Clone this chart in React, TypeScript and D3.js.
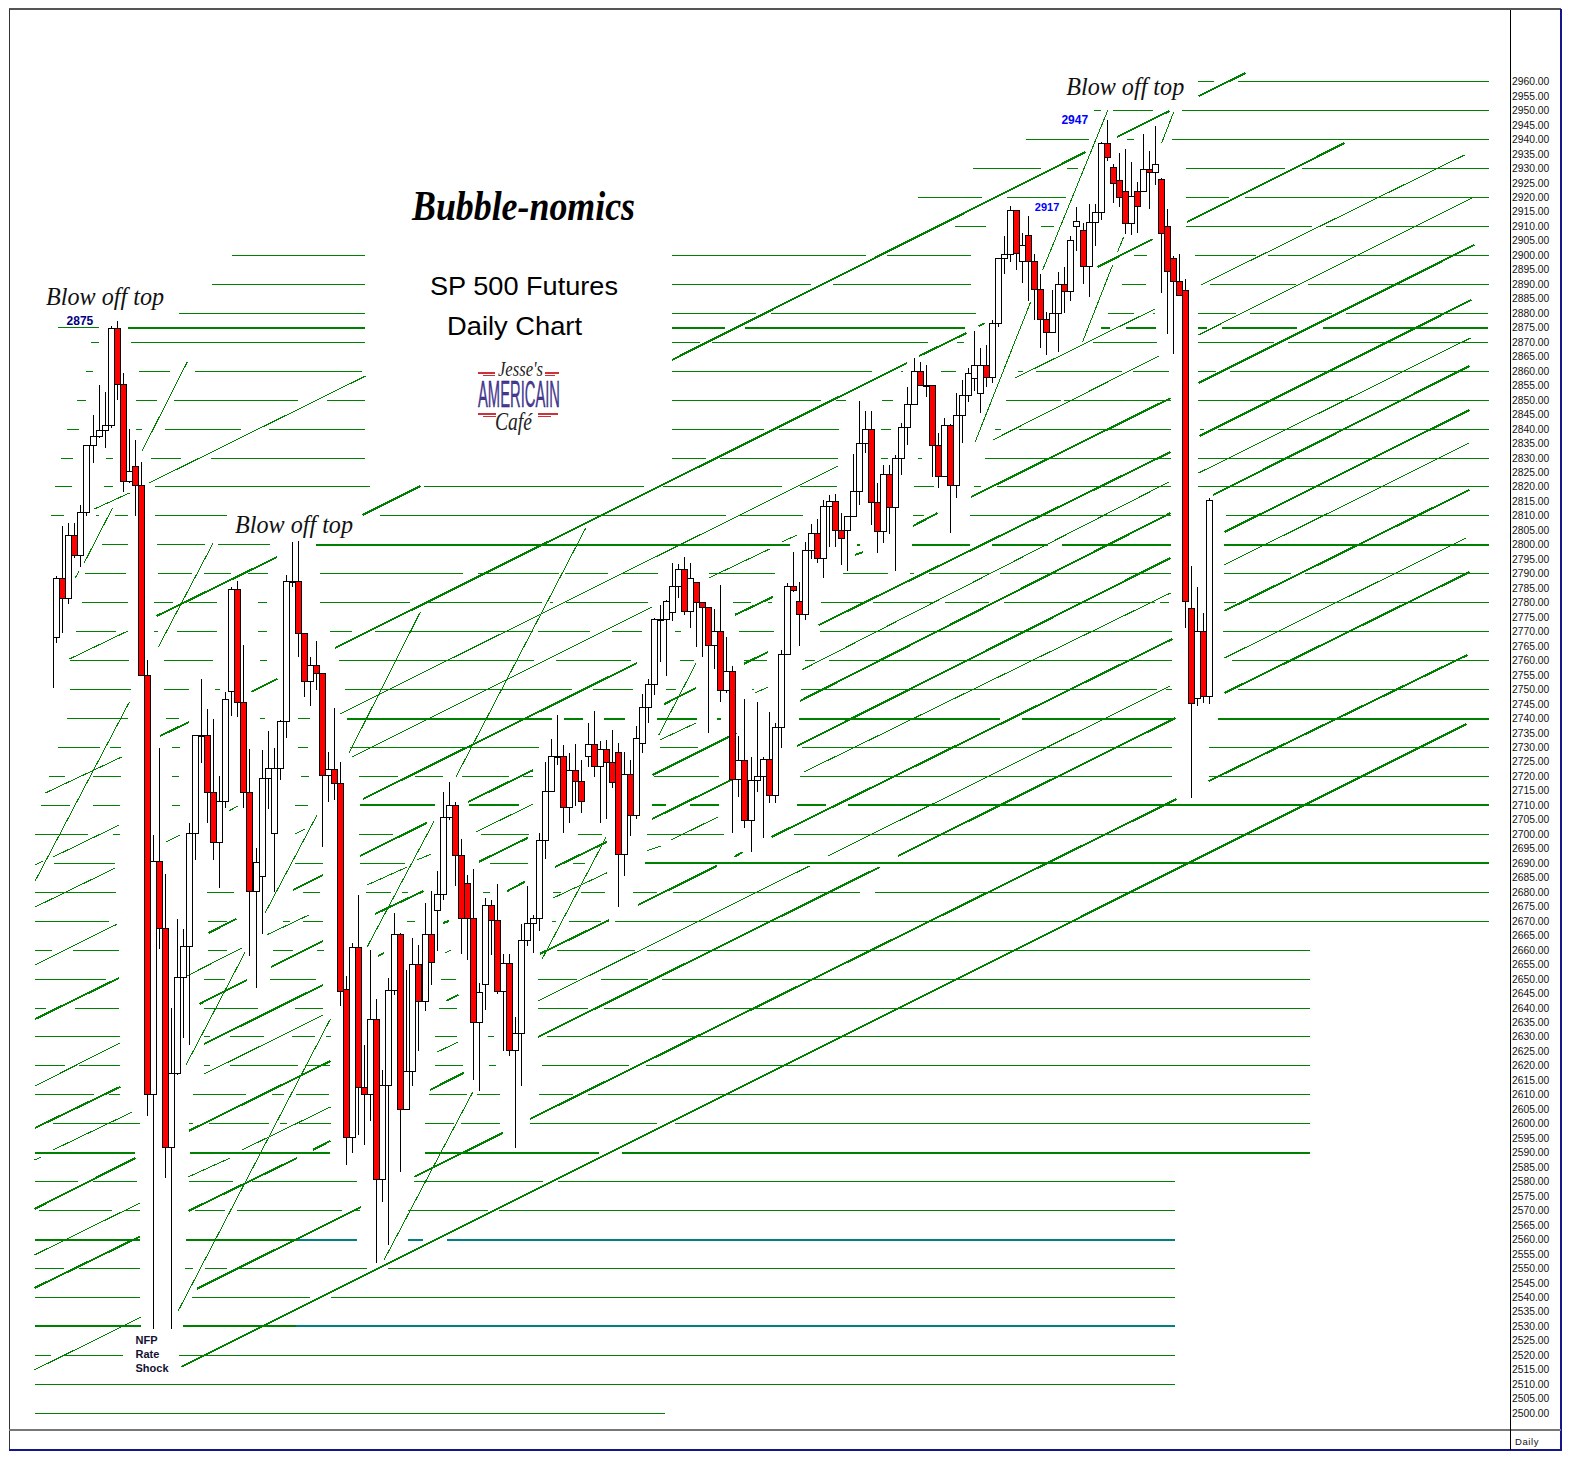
import React from "react";
import * as d3 from "d3";

// ---- Daily candles ----
const opens = [2768,2788.5,2781.5,2803.3,2796.4,2811.3,2834.4,2837.5,2839.6,2841.3,
2874.8,2855.5,2822,2827,2820.6,2755,2610,2690.6,2667.4,2591.7,
2617.3,2650.4,2661.4,2700.3,2734.3,2734.3,2714.5,2697.3,2711.3,2749.3,
2784.7,2745.6,2714.5,2680.1,2685.3,2719.4,2700.3,2722.8,2739,2787.3,
2787.3,2769.5,2752.8,2758.3,2755.6,2720.3,2722.3,2717.6,2646.3,2595.4,
2661,2612.6,2610,2636.1,2580.6,2613.1,2645.9,2665.3,2604.8,2618,
2655.1,2642.3,2665.3,2673.8,2679.3,2705.9,2710,2692.8,2683.1,2671,
2635.1,2648.2,2675.3,2670.3,2645.8,2655.5,2625.4,2631.3,2663.4,2669.3,
2671,2697.9,2714.8,2726.8,2726.8,2709.3,2722.1,2718.3,2726.8,2731.1,
2723.5,2729.3,2724.8,2728.3,2693.1,2720.7,2706.5,2731.4,2743.8,2751.8,
2774.2,2774.2,2776.7,2785.6,2791.5,2777,2787,2780.1,2778.4,2765.1,
2770.1,2749.7,2756.3,2719,2725.5,2704.8,2718.6,2720,2725.9,2713.4,
2736.9,2762.2,2785.6,2780.5,2776,2798,2804,2795.4,2813.3,2815.1,
2805,2805,2809.9,2818.5,2835.1,2839.9,2814.7,2804.7,2824.4,2813,
2829.9,2840.6,2848.6,2860,2855.1,2855.1,2834.4,2823.7,2841.3,2820.6,
2844.8,2851.7,2857.5,2852.4,2862,2857.9,2876.5,2898.9,2900.4,2915.5,
2897.8,2906.9,2897.8,2888.2,2877.9,2873.4,2879.9,2890,2887.5,2910,
2908.6,2896.2,2911.4,2914.8,2938.7,2930.4,2925.9,2922.1,2911,2922.1,
2922.1,2929.7,2928.7,2926.2,2910,2899,2891,2887.8,2778,2746.8,
2770.1,2747.5];
const highs = [2789.3,2806.5,2807.5,2807.5,2813.8,2834.4,2844.9,2855.2,2852.7,2875.6,
2877.3,2859.3,2839.9,2836.2,2828.5,2760.2,2699.7,2729.7,2686.4,2640,
2670.6,2667.4,2703.9,2734.3,2753.7,2743.2,2740,2720,2749.3,2785.6,
2787.5,2765.4,2729.5,2695.3,2729.2,2735.7,2729.7,2739.5,2789.6,2801.1,
2801.4,2769.5,2761.4,2766.8,2755.6,2728.4,2743.6,2725.1,2651.1,2662.6,
2679,2627.3,2660,2643.1,2618.6,2650.3,2672.7,2666,2653.2,2664.1,
2661.8,2676.2,2680.4,2687.4,2714.5,2718.2,2711.3,2698.3,2686,2687.9,
2648.6,2677.9,2677.3,2682.9,2658.7,2658.7,2636.8,2669,2682.2,2672.2,
2700.4,2725,2732.8,2741.2,2730.8,2728,2731.1,2725.6,2738.3,2742.6,
2732.2,2732.6,2736.2,2731.4,2728.3,2725.6,2737.4,2748.5,2753.6,2774.6,
2779.2,2780.9,2793.7,2793.4,2795.7,2793.9,2787,2780.1,2778.4,2777.7,
2786.1,2768,2758.1,2733.9,2746.7,2726.8,2745.6,2726.6,2742.1,2738.3,
2763.6,2786.7,2797.4,2787,2800.9,2807.2,2809,2815.5,2817.3,2817.6,
2810.9,2809.9,2831.4,2849.7,2846.4,2846.4,2821.3,2827.6,2827.6,2831.1,
2842,2854.7,2864.5,2863,2862.2,2855.1,2838.6,2843.7,2841.8,2852.4,
2857,2861,2873.9,2867.9,2869,2877.6,2898.9,2906.7,2917,2915.5,
2907.6,2913.6,2900.4,2893.4,2880.5,2888,2894.3,2896.1,2906.7,2916.8,
2911.3,2917.6,2917.6,2939.3,2946.7,2931.5,2935.2,2936.6,2932.3,2925.4,
2942.1,2936,2944.7,2926.9,2915.9,2899.8,2900.4,2891.7,2792.7,2785.3,
2776.4,2816.3];
const lows = [2766.2,2769.7,2779.5,2795.4,2792.3,2810,2828.4,2836.8,2833.6,2840.5,
2850,2818.4,2821.3,2810,2755,2602.7,2529,2660.3,2581.2,2529,
2617,2629.5,2627.3,2691.3,2724.8,2703.9,2691.3,2681.3,2709,2741,
2740.7,2709,2658.1,2647,2665.7,2708.6,2680,2718.8,2733.2,2785.6,
2761.4,2747.6,2744.5,2749.9,2695.7,2711.3,2711.9,2640.8,2585.9,2590,
2596.2,2592.7,2601.1,2551.8,2573.1,2558.2,2644.5,2583.5,2604.8,2612.9,
2625.3,2639.1,2648,2659.8,2677.3,2705,2682,2658.7,2656.6,2615.2,
2611.5,2639.3,2658.3,2644.9,2625,2623.6,2591.6,2612.9,2661.4,2659.1,
2666.7,2691.6,2714.8,2723.9,2700.3,2703.8,2709.8,2707.5,2723.1,2719.9,
2704,2705.4,2715.9,2674.8,2685.7,2699.5,2705.2,2728,2738.5,2748.1,
2759.6,2754.8,2773.8,2781.5,2775.7,2771.4,2764.8,2761.3,2735.1,2757.1,
2745.8,2748.7,2700.3,2713,2702.3,2694,2714.7,2698.6,2711,2711,
2729.7,2762.2,2783.8,2765.1,2774.2,2795,2793.9,2788.4,2799.4,2799.4,
2793.1,2791.1,2809.9,2813.6,2831.9,2806.7,2797.3,2800.6,2803.6,2790.8,
2824,2834.5,2848.6,2855.1,2851.2,2823.6,2819.6,2823.7,2804,2816.3,
2835.3,2849.5,2853,2845.7,2854.7,2855.8,2875.4,2893.4,2897.8,2894.9,
2890.5,2884.3,2877.6,2868.1,2865.6,2873.4,2866.7,2880.2,2884.3,2901.6,
2890.1,2885.7,2903.3,2912.2,2932.7,2918.2,2916.8,2907.4,2907.1,2907.6,
2922.1,2916.1,2924.3,2886.9,2872.7,2866.1,2886.2,2771.4,2712.6,2744.2,
2745.4,2745];
const closes = [2788.5,2781.5,2803.3,2796.4,2811.3,2834.4,2837.5,2839.6,2841.3,2874.8,
2855.5,2822,2825.4,2820.6,2755,2610,2690.6,2667.4,2591.7,2617.3,
2650.4,2661.4,2700.3,2734.3,2734.3,2714.5,2697.3,2711.3,2746.7,2784.7,
2745.6,2714.5,2680.1,2690.2,2719.4,2722.8,2722.8,2739,2787.3,2787.3,
2769.5,2752.8,2758.3,2755.6,2720.3,2722.3,2717.6,2645.7,2595.4,2661,
2612.6,2610,2636.1,2580.6,2613.1,2645.9,2665.3,2604.8,2618,2655.1,
2642.3,2665.3,2655.8,2679.3,2705.9,2710,2692.8,2671,2671,2635.1,
2645.4,2675.3,2670.3,2645.8,2655.5,2625.4,2631.3,2663.4,2669.3,2671,
2697.9,2714.8,2726.8,2726.8,2709.3,2722.1,2718.3,2711.3,2731.1,2723.5,
2729.3,2724.8,2717.9,2693.1,2720.7,2706.5,2733.1,2743.8,2751.8,2774.2,
2774.2,2780.5,2785.6,2791.5,2777,2788.4,2780.1,2778.4,2765.1,2770.1,
2749.7,2756.3,2719,2725.5,2704.8,2718.6,2720,2725.9,2713.4,2736.9,
2762.2,2785.6,2784.3,2776,2798,2804,2795.4,2813.3,2815.1,2805,
2802.3,2809.9,2818.5,2835.1,2839.9,2814.7,2804.7,2824.4,2813,2829.9,
2840.6,2848.6,2860,2855.1,2855.1,2834.4,2823.7,2841.3,2820.6,2844.8,
2851.7,2859.3,2862,2862,2857.9,2876.5,2898.9,2900.4,2915.5,2900.6,
2903.4,2897.8,2888.2,2877.9,2873.4,2879.9,2890,2887.5,2905.2,2911.7,
2896.2,2911.4,2914.8,2938.7,2933.8,2924.9,2920,2911,2920.4,2916.9,
2929.7,2928.8,2931.4,2907.6,2894.5,2891,2886.2,2780.3,2745.1,2770.1,
2747.5,2815.4];
const firstWick = [2768, 2750.5];

const priceTicks = d3.range(2500, 2965, 5);

// ---- Support / resistance levels: [price, [[fromBar, toBar], ...]] ----
const thinLevels: [number, number[][]][] = [
[2960,[[189.2,191.7],[195.7,237.3]]],
[2950,[[171.9,173],[175,181.6],[186.4,237.3]]],
[2940,[[160.6,171],[177.3,178.5],[184.9,237.3]]],
[2930,[[151.8,163.1],[167.4,169.2],[187.1,203.5],[206.3,237.3]]],
[2920,[[142.7,153.3],[157.5,167.2],[187.1,194.2],[196.9,237.3]]],
[2910,[[148.8,154],[163.2,165.2],[187.2,208],[210.4,237.3]]],
[2900,[[29.1,51.2],[102,134.1],[137.6,151.5],[178.6,180.6],[188.6,198.7],[200.7,237.3]]],
[2890,[[25.8,51.2],[102,125],[128.6,151.5],[176.5,180.5],[191.1,205.3],[207.3,237.3]]],
[2880,[[20.4,51.2],[102,115.9],[118.4,152.3],[174.2,178.6],[181.6,182],[189.1,195.5],[197.7,211.3],[213.6,237.1]]],
[2875,[[0.2,7]]],
[2870,[[5.8,7.1],[12.3,51.2],[102,106.6],[108.6,144.4],[149.2,150.3],[171.7,182.3],[189.2,201.7],[204,237.1]]],
[2860,[[5,6.1],[13.7,18.9],[23,50.7],[102,135.1],[139.9,140.2],[146.5,149],[159.3,160.1],[162.3,176.5],[178.3,184.3],[189.2,192.1],[194.4,237.3]]],
[2850,[[3.5,5],[13.2,16.7],[19.5,40.1],[44.9,51.2],[102,126.7],[129.1,130.8],[136.8,138.6],[157.3,166.4],[167,184.6],[189.2,237.3]]],
[2840,[[1.7,3.8],[13.2,14.2],[18,30.6],[35.3,51.2],[102,117.2],[119.7,129.6],[136.6,138.2],[155.5,156.5],[159.4,184.6],[189.4,190.2],[192.5,237.3]]],
[2830,[[0.7,2.8],[8.3,9.4],[15.7,20.7],[25.7,51.2],[102,107.6],[109.9,129.5],[136.6,137.7],[142.7,143.4],[153.8,184.6],[189.2,237.3]]],
[2820,[[-0.2,2.6],[7.9,9.4],[16.4,52],[60.9,97.4],[100.5,120.2],[123.2,129.3],[142.1,145.4],[152,153.1],[155.8,184.6],[189.2,237.3]]],
[2810,[[-0.8,1.2],[6.6,7.1],[9.8,11.8],[16.4,28.3],[53.6,110.9],[113.1,123.7],[141.9,143.7],[151.3,184.6],[193.7,237.3]]],
[2800,[[7.5,11.8],[16.6,24.7],[26.8,35.4]]],
[2790,[[4.8,11.6],[16.9,22.4],[24.5,29],[31.8,35.1],[43.7,67.4],[69.9,83.3],[84.3,91.4],[93.9,99.7],[108.1,119],[130.3,137.7],[141.4,142.1],[144.5,154.5],[156.3,184.6],[193.5,204.5],[206.8,237.3]]],
[2780,[[4.3,11.8],[16.2,19.4],[21.9,26.7],[33.4,34.9],[43.7,58.6],[61.1,80.5],[81.8,82.3],[84.4,98],[112.1,115.1],[117.9,118.5],[126.7,134.3],[135.3,145.2],[147.2,154.5],[157,182],[182.8,184.4],[193.5,195.4],[197.5,237.3]]],
[2770,[[3.3,9.9],[16.2,16.9],[20,26.7],[33.4,34.9],[45.4,49],[52.8,79],[79.8,88.4],[92.1,97],[102.5,103.5],[113.1,118.9],[126.5,184.9],[193.2,237.3]]],
[2760,[[2.3,12.1],[17.9,26],[33.8,34.9],[46.9,79.1],[82.8,95.2],[103.3,105.6],[113.9,117.7],[124,125.7],[128,184.9],[194.7,237.3]]],
[2750,[[2.3,12.3],[17.9,21.9],[26.3,27.2],[47.9,85.4],[88.9,95.5],[101,102.6],[115.2,115.6],[123.3,182.3],[183.9,184.9],[195.7,237.3]]],
[2740,[[1.7,11.8],[18.2,20.4],[33.8,34.6],[40.1,42.1]]],
[2730,[[0.2,7.3],[8.9,10.8],[19.2,20.5],[40.1,41.7],[48.7,80],[100,106.3],[123.5,184.9],[190.9,237.3]]],
[2720,[[-1.2,1.5],[6.1,10.8],[19.2,20.4],[40.6,41.9],[50.2,56.6],[59.4,64.1],[67.2,75],[77.3,79],[99,109.8],[123.2,184.9],[190.9,237.3]]],
[2710,[[-2.5,2.3],[6.1,10.6],[19.2,20.5],[39.6,41.7]]],
[2700,[[-3.5,5.3],[9.4,10.6],[50.2,55.8],[70.4,78.3],[86.4,90.4],[97.8,110.6],[122.2,237.3]]],
[2690,[[-0.3,9.8],[39.6,44.2],[50.3,57.8],[71.9,78.1],[85.6,87.6]]],
[2680,[[-3.5,9.9],[25,29.5],[40.9,43.7],[51.3,55.5],[57.3,58.3],[70.7,71.9],[82.3,83.6],[86.9,90.9],[95.5,99.5],[102.2,133.1],[135.6,237.3]]],
[2670,[[-3.5,8.8],[25.2,28.3],[37.6,38.7],[40.9,44.2],[58.1,59.4],[82.1,82.8],[84.9,90.2],[92.5,237.3]]],
[2660,[[-3.5,-0.7],[2.8,10.4],[25.2,28.3],[35.9,39.2],[43.2,44.4],[83,95.9],[97.8,207.6]]],
[2650,[[-3.5,8.3],[24.5,28],[35.4,43],[63.7,66.2],[79.8,86.3],[90.2,98],[100.3,207.6]]],
[2640,[[-3.5,-1.7],[3.1,10.4],[24.5,33.4],[39.6,44.2],[63.4,66.4],[79.8,88.1],[90.7,207.6]]],
[2630,[[-3.5,10.6],[24.5,25.5],[28.8,34.4],[39.1,42.9],[44.7,45.5],[62.7,66.4],[71.5,72.5],[81.3,207.6]]],
[2620,[[-3.5,1.5],[3.8,10.6],[24.5,25.5],[28.8,40.1],[41.2,45.4],[62.7,67.4],[71.7,72.8],[80.5,94.9],[97.7,207.6]]],
[2610,[[-3.5,6.3],[8.8,10.6],[22.7,31.5],[35.8,37.7],[39.7,45.2],[61.8,68],[69.7,73.5],[80,85.6],[88.1,207.6]]],
[2600,[[-0.5,13.9],[21.9,22.7],[25.3,35.3],[37.1,38.2],[40.2,45.5],[61.1,65.9],[67.1,73.5],[78.5,99.5],[102.5,207.6]]],
[2580,[[-3.6,3.6],[6,13.4],[21.9,29.3],[32.5,49.8],[59.3,80.6],[83.1,185.4]]],
[2570,[[-2.8,9.3],[11.4,13.9],[23,28],[30,47.4],[49.5,50.3],[58.3,71.5],[73.3,185.4]]],
[2550,[[-3.6,1.2],[3.8,13.9],[21.4,22.7],[24.7,28.3],[30.5,51.5],[55,185.4]]],
[2540,[[-3.6,13.9],[22.4,42.1],[45.5,185.4]]],
[2520,[[-3.6,-0.8],[1.2,11.1],[20.4,185.4]]],
[2510,[[-3.6,185.4]]],
[2500,[[-3.6,100.8]]],
];
const thickLevels: [number, number[][]][] = [
[2875,[[11.8,51.2],[102,110.8],[114.1,150.5],[173,174.5],[177.2,182.1],[189.2,190.7],[193.1,205.5],[209.8,237.1]]],
[2800,[[43,121.5],[132.6,133.1],[141.7,151.3],[155,164.2],[166.6,184.6],[193.5,237.3]]],
[2740,[[48.2,82.1],[84.1,87.3],[90.7,94.2],[99.5,106.1],[109.4,110.1],[123,156.3],[159.9,184.9],[192.5,237.3]]],
[2710,[[50.3,62.7],[68.4,76.7],[98.7,101],[105,109.8],[122.7,127.5],[131.1,237.3]]],
[2690,[[97.5,237.3]]],
[2590,[[-3.6,13.1],[22.2,45.4],[61.1,89.9],[93.7,207.6]]],
[2560,[[-3.6,13.9],[21.5,40.1]]],
[2530,[[-3.6,14.1],[21,39.7]]],
];
const tealLevels: [number, number[][]][] = [
[2560,[[40.1,49.8],[58.3,60.8],[64.7,185.4]]],
[2530,[[39.7,185.4]]],
];

// ---- Trend lines: [fromBar, fromPrice, toBar, toPrice] ----
const thickTrends = [
[189.2,2955,197,2963],[187.3,2911.5,213.4,2938.8],[189.2,2855.9,234.9,2903.6],[189.4,2837.6,234.4,2884.6],
[191.6,2817.2,234.1,2861.8],[193.5,2804.4,234.1,2846.6],[193.5,2777.2,234.1,2819],[193.5,2748.8,234.1,2790.6],
[190.9,2718.4,233.8,2762],[20.7,2516,233.6,2738.1],[102,2863.9,170.5,2935.7],[46.2,2764.4,140.9,2862.8],
[50.8,2712.2,96.2,2759.2],[68.2,2711.2,79,2722.2],[50.3,2692.5,61.4,2704],[70,2690.5,78.1,2698.8],
[52.8,2672.5,60.8,2680.4],[74.7,2680.4,77.6,2683.6],[53.3,2658,54.3,2659],[64.1,2669.4,65.1,2670.1],
[64.6,2642.5,66.6,2644.5],[61.9,2611.7,67.5,2617.6],[59.3,2581.7,74,2596.9],[23.3,2543,50.5,2571.3],
[80.1,2658.7,91.6,2670.4],[82.6,2688.7,91.2,2697.4],[79.8,2630,136.4,2688.7],[78.5,2601.7,185.6,2712.2],
[96.4,2675.6,109.4,2689.1],[98.8,2720.5,112.7,2735],[98.7,2705.3,113.2,2720.2],[100.7,2745,106,2750.6],
[112.4,2775.8,118.7,2782],[113.9,2758.9,117.9,2763],[112.3,2692.2,113.7,2693.9],[118.5,2699.1,184.9,2767.5],
[123.2,2746.1,184.6,2811],[126.3,2772.3,184.6,2832.1],[122.7,2730.5,184.6,2795.5],[139.4,2692.5,185.4,2740.2],
[142.9,2865.2,150.8,2873.2],[152.8,2875.6,153.8,2876.6],[141.9,2806.5,146,2811],[151.5,2816.5,184.6,2850.7],
[132.3,2796.5,133.6,2797.5],[172.5,2896,181.6,2905.6],[175.7,2940.9,184.4,2949.9],[16.6,2775.4,36.6,2795.8],
[17.2,2734,22,2738.8],[32.3,2749.2,36.6,2753.7],[50.7,2810.3,60.3,2820.3],[-3.5,2636.2,10.4,2650.4],
[-3.5,2598.6,10.6,2612.8],[-3.6,2570.6,13.1,2588.2],[-3.6,2543.3,13.9,2561.1],[23.7,2641.4,31.6,2649.7],
[25.2,2665.9,29.8,2670.8],[24.5,2627.6,44.2,2648],[22,2597.6,45.4,2621.7],[42.5,2591,45.4,2594.1],
[21.9,2569.9,39.9,2588.2],[39.2,2680.8,44.2,2686],[35.6,2654.2,44.2,2663.2],
];
const thinTrends = [
[189.6,2889.8,233.3,2934.7],[189.2,2872.5,234.9,2920.2],[189.2,2824.8,234.3,2871.5],[193.5,2793.1,234.1,2835.2],
[193.5,2760.9,233.6,2802.4],[158.8,2857.6,182,2881.5],[155.1,2836.2,182.6,2865.2],[123.5,2756.8,184.3,2821.7],
[123.8,2721.5,184.6,2783.4],[127.8,2692.5,184.6,2751.3],[47,2741.6,129.5,2827.2],[49,2726.7,98.7,2778.5],
[108.1,2788.6,118.2,2798.6],[120.2,2801,122.7,2803.4],[100,2732.6,106,2738.5],[115.7,2748.8,117.9,2750.9],
[97.8,2694.3,100.2,2696],[101.8,2698,109.6,2706],[79.8,2642.4,124.8,2689.1],[82.3,2678,91.2,2686.7],
[69.5,2700.8,79,2710.5],[51.5,2682.5,58.1,2688.7],[59.8,2691.2,62.1,2693.2],[64.4,2659,65.4,2660],
[63.1,2624.8,66.6,2628.3],[15.4,2821.4,51.2,2858.3],[6.3,2812.4,12.1,2817.9],[2.2,2760.6,11.8,2770.2],
[-1.8,2714.3,10.8,2726.7],[-0.5,2692.2,10.4,2703.2],[-3.5,2689.4,-2.2,2690.8],[-3.5,2674.9,9.8,2688.4],
[-3.5,2654.9,10.1,2669],[-3.5,2613.1,10.6,2628],[-0.5,2591,12.6,2604.1],[-3.6,2587.5,-2.5,2588.6],
[-3.6,2554.7,13.9,2572.7],[-3.6,2515,14.1,2533.3],[21,2650.4,30.8,2660.8],[24.5,2617.2,44.2,2637.6],
[30.8,2591,45.4,2605.8],[21.9,2581.7,28.8,2588.2],[34.9,2665.3,41.9,2672.2],[39.6,2700.1,41.2,2701.9],
[28.6,2708.1,30.1,2709.8],[18.2,2697.4,20.5,2699.8],
// steep fans
[-3.5,2683.9,12.1,2745.7],[16.9,2764.7,26,2800.7],[14.2,2832.4,21.7,2863.2],[4.6,2793.7,9.3,2812.7],
[3.1,2788.5,3.8,2791],[21.5,2620.4,31.3,2659.4],[20.2,2535.4,45.4,2636.2],[34.6,2672.9,43.2,2706.7],
[48.5,2728.1,60.3,2776.8],[51.5,2661.1,62.6,2704.6],[66.2,2719.8,87.7,2805.8],[54.3,2553,69,2611],
[80.5,2657,91.1,2699.1],[99.8,2734.3,106,2759.2],[152.2,2835.5,161.4,2883.9],[163.4,2895,174.2,2950.2],
[170,2870.1,175,2896.7],[175.8,2901.2,176.8,2906.3],[183.1,2938.8,185.1,2949.5],
];

// ---- Annotations ----
const blowOffLabels = [
  { text: "Blow off top", bar: -1.7, price: 2882.7 },
  { text: "Blow off top", bar: 29.6, price: 2804 },
  { text: "Blow off top", bar: 167.3, price: 2955.3 },
];
const priceNotes = [
  { text: "2875", bar: 1.7, price: 2876.1, color: "#000080", size: 12 },
  { text: "2947", bar: 166.5, price: 2945.5, color: "#0000ff", size: 12 },
  { text: "2917", bar: 162.1, price: 2915.3, color: "#0000ff", size: 11 },
];
const shockNote = ["NFP", "Rate", "Shock"];

const x = d3.scaleLinear().domain([0, 191]).range([56.3, 1209.3]);
const y = d3.scaleLinear().domain([2500, 2960]).range([1413.3, 81.7]);
const GREEN = "#008000";
const TEAL = "#008080";

function Levels({ rows, color, width }: { rows: [number, number[][]][]; color: string; width: number }) {
  return (
    <g stroke={color} strokeWidth={width} shapeRendering="crispEdges">
      {rows.flatMap(([p, segs]) =>
        segs.map(([a, b], i) => (
          <line key={p + "-" + i} x1={x(a)} x2={x(b)} y1={y(p)} y2={y(p)} />
        ))
      )}
    </g>
  );
}

function Trends({ rows, width }: { rows: number[][]; width: number }) {
  return (
    <g stroke={GREEN} strokeWidth={width} shapeRendering="crispEdges">
      {rows.map(([a, p, b, q], i) => (
        <line key={i} x1={x(a)} y1={y(p)} x2={x(b)} y2={y(q)} />
      ))}
    </g>
  );
}

export default function App() {
  const sans = "'Liberation Sans', Arial, sans-serif";
  const serif = "'Liberation Serif', serif";
  return (
    <svg
      width={1576}
      height={1459}
      viewBox="0 0 1576 1459"
      style={{ position: "absolute", left: 0, top: 0, background: "#fff" }}
    >
      {/* frame */}
      <g shapeRendering="crispEdges" fill="none">
        <line x1={9} x2={1561} y1={9} y2={9} stroke="#555" strokeWidth={2} />
        <line x1={9.5} x2={9.5} y1={9} y2={1451} stroke="#333" strokeWidth={1} />
        <line x1={9} x2={1561} y1={1450} y2={1450} stroke="#14148c" strokeWidth={2} />
        <line x1={1561} x2={1561} y1={9} y2={1451} stroke="#14148c" strokeWidth={1.5} />
        <line x1={9} x2={1561} y1={1430} y2={1430} stroke="#777" strokeWidth={2} />
        <line x1={1510.5} x2={1510.5} y1={10} y2={1450} stroke="#000" strokeWidth={1} />
      </g>

      <Levels rows={thinLevels} color={GREEN} width={1} />
      <Levels rows={thickLevels} color={GREEN} width={2} />
      <Levels rows={tealLevels} color={TEAL} width={2} />
      <Trends rows={thinTrends} width={1} />
      <Trends rows={thickTrends} width={2} />

      {/* candles */}
      <line x1={x(-0.5)} x2={x(-0.5)} y1={y(firstWick[0])} y2={y(firstWick[1])} stroke="#000" shapeRendering="crispEdges" />
      <g shapeRendering="crispEdges">
        {closes.map((c, i) => {
          const o = opens[i];
          const up = c >= o;
          const top = y(Math.max(o, c));
          const bot = y(Math.min(o, c));
          const cx = Math.round(x(i)) + 0.5;
          return (
            <g key={i}>
              <line x1={cx} x2={cx} y1={y(highs[i])} y2={y(lows[i])} stroke="#000" strokeWidth={1} />
              <rect
                x={cx - 3}
                y={top}
                width={6}
                height={Math.max(bot - top, 1)}
                fill={up ? "#fff" : "#ff0000"}
                stroke="#000"
                strokeWidth={1}
              />
            </g>
          );
        })}
      </g>

      {/* price axis */}
      <g fontFamily={sans} fontSize={10.3} fill="#111">
        {priceTicks.map((p) => (
          <text key={p} x={1512} y={y(p)} dominantBaseline="central">
            {p.toFixed(2)}
          </text>
        ))}
      </g>
      <text x={1515} y={1445} fontFamily={sans} fontSize={9.5} letterSpacing={0.6} fill="#111">
        Daily
      </text>

      {/* titles */}
      <text
        x={412}
        y={220}
        fontFamily={serif}
        fontStyle="italic"
        fontWeight="bold"
        fontSize={42}
        textLength={223}
        lengthAdjust="spacingAndGlyphs"
        fill="#000"
      >
        Bubble-nomics
      </text>
      <text x={430} y={295} fontFamily={sans} fontSize={26.5} textLength={188} lengthAdjust="spacingAndGlyphs">
        SP 500 Futures
      </text>
      <text x={447} y={335} fontFamily={sans} fontSize={26.5} textLength={135} lengthAdjust="spacingAndGlyphs">
        Daily Chart
      </text>

      {/* logo */}
      <g>
        <g fill="#c8333c" shapeRendering="crispEdges">
          <rect x={478} y={372} width={17} height={1.5} />
          <rect x={483} y={374.5} width={12} height={1.5} />
          <rect x={545} y={372} width={14} height={1.5} />
          <rect x={545} y={374.5} width={10} height={1.5} />
          <rect x={478} y={413} width={18} height={1.5} />
          <rect x={483} y={415.5} width={13} height={1.5} />
          <rect x={538} y={413} width={20} height={1.5} />
          <rect x={538} y={415.5} width={13} height={1.5} />
        </g>
        <text x={498} y={376} fontFamily={serif} fontStyle="italic" fontSize={20} textLength={45} lengthAdjust="spacingAndGlyphs" fill="#222">
          Jesse's
        </text>
        <text
          x={478}
          y={407}
          fontFamily={sans}
          fontSize={37}
          textLength={82}
          lengthAdjust="spacingAndGlyphs"
          fill="#4a3a9c"
          stroke="#1a1a4a"
          strokeWidth={0.4}
        >
          AMERICAIN
        </text>
        <text x={495} y={430} fontFamily={serif} fontStyle="italic" fontSize={25} textLength={37} lengthAdjust="spacingAndGlyphs" fill="#222">
          Café
        </text>
      </g>

      {/* annotations */}
      <g fontFamily={serif} fontStyle="italic" fontSize={26} fill="#111">
        {blowOffLabels.map((d, i) => (
          <text key={i} x={x(d.bar)} y={y(d.price)} textLength={118} lengthAdjust="spacingAndGlyphs">
            {d.text}
          </text>
        ))}
      </g>
      <g fontFamily={sans} fontWeight="bold">
        {priceNotes.map((d) => (
          <text key={d.text} x={x(d.bar)} y={y(d.price)} fill={d.color} fontSize={d.size}>
            {d.text}
          </text>
        ))}
      </g>
      <g fontFamily={sans} fontWeight="bold" fontSize={11} fill="#111133">
        {shockNote.map((t, i) => (
          <text key={t} x={135.5} y={1344 + i * 14}>
            {t}
          </text>
        ))}
      </g>
    </svg>
  );
}
